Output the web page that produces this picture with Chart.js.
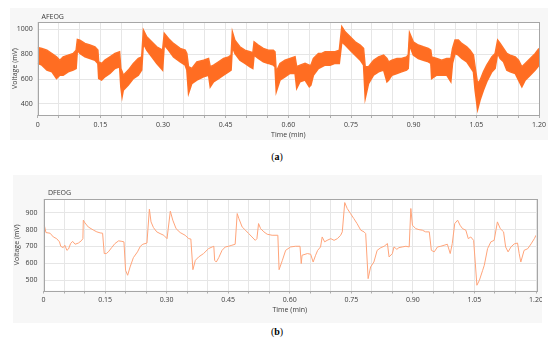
<!DOCTYPE html>
<html>
<head>
<meta charset="utf-8">
<script src="https://cdn.jsdelivr.net/npm/chart.js@4.4.1/dist/chart.umd.min.js"></script>
<style>
  body { margin: 0; background: #fff; width: 550px; height: 348px; position: relative; overflow: hidden; }
  canvas { position: absolute; }
  #chartA { left: 10px; top: 8px; }
  #chartB { left: 13px; top: 175px; }
  .cap { position: absolute; left: 2px; width: 550px; text-align: center; font: 10px 'Liberation Serif', serif; color: #000; }
</style>
</head>
<body>
<canvas id="chartA" width="538" height="132"></canvas>
<canvas id="chartB" width="529" height="148"></canvas>
<div class="cap" style="top:151px">(<b>a</b>)</div>
<div class="cap" style="top:326px">(<b>b</b>)</div>
<script>
/* AFEOG / DFEOG voltage traces */

// labelled ticks on the time axis (grid every 0.05)
const X_LABELS = [0, 0.15, 0.30, 0.45, 0.60, 0.75, 0.90, 1.05, 1.20];

// (a) AFEOG: noisy band, upper / lower envelope (mV)
const TIME_A = [
  0, 0.010, 0.022, 0.034, 0.045, 0.053, 0.061, 0.073, 0.085, 0.092,
  0.095, 0.101, 0.113, 0.125, 0.137, 0.144, 0.146, 0.153, 0.161, 0.173,
  0.185, 0.196, 0.199, 0.202, 0.205, 0.217, 0.229, 0.241, 0.249, 0.253,
  0.261, 0.273, 0.285, 0.299, 0.303, 0.313, 0.325, 0.341, 0.353, 0.357,
  0.361, 0.369, 0.381, 0.397, 0.409, 0.413, 0.421, 0.433, 0.445, 0.457,
  0.463, 0.466, 0.472, 0.484, 0.496, 0.508, 0.515, 0.518, 0.528, 0.540,
  0.552, 0.564, 0.568, 0.571, 0.580, 0.592, 0.604, 0.616, 0.620, 0.628,
  0.640, 0.650, 0.654, 0.660, 0.672, 0.680, 0.688, 0.700, 0.712, 0.722,
  0.728, 0.736, 0.748, 0.760, 0.772, 0.780, 0.784, 0.792, 0.804, 0.816,
  0.828, 0.836, 0.840, 0.848, 0.860, 0.871, 0.883, 0.887, 0.890, 0.899,
  0.911, 0.923, 0.935, 0.941, 0.943, 0.955, 0.967, 0.979, 0.989, 0.993,
  0.999, 1.007, 1.015, 1.027, 1.035, 1.043, 1.047, 1.053, 1.059, 1.067,
  1.075, 1.087, 1.095, 1.101, 1.107, 1.115, 1.123, 1.131, 1.143, 1.151,
  1.159, 1.167, 1.179, 1.191, 1.200
];
const UPPER_A = [
  855, 847, 833, 806, 779, 752, 779, 793, 806, 833,
  919, 914, 887, 874, 860, 833, 739, 726, 752, 779,
  806, 820, 685, 660, 631, 672, 726, 766, 779, 995,
  941, 900, 860, 833, 968, 927, 887, 847, 833, 806,
  699, 685, 739, 752, 766, 699, 712, 739, 766, 779,
  793, 981, 914, 860, 833, 820, 812, 900, 874, 847,
  833, 833, 820, 658, 726, 752, 766, 779, 699, 712,
  726, 712, 712, 766, 806, 806, 820, 820, 820, 833,
  1022, 981, 941, 900, 874, 847, 699, 699, 752, 779,
  793, 766, 739, 752, 766, 766, 779, 793, 973, 900,
  874, 860, 847, 833, 779, 766, 752, 766, 766, 847,
  914, 914, 887, 860, 833, 793, 699, 564, 591, 658,
  712, 779, 806, 914, 887, 847, 806, 793, 779, 752,
  699, 726, 766, 806, 847
];
const LOWER_A = [
  726, 712, 672, 658, 604, 631, 631, 658, 672, 685,
  833, 806, 779, 766, 752, 726, 604, 591, 618, 645,
  685, 699, 537, 456, 510, 551, 604, 631, 672, 887,
  833, 779, 726, 672, 874, 833, 779, 739, 712, 672,
  483, 564, 591, 618, 631, 537, 578, 604, 631, 658,
  672, 860, 806, 752, 726, 699, 685, 793, 766, 739,
  726, 712, 699, 497, 591, 618, 645, 645, 524, 578,
  591, 537, 551, 631, 685, 699, 712, 712, 726, 726,
  900, 874, 833, 793, 752, 712, 443, 564, 631, 658,
  672, 578, 591, 631, 645, 658, 672, 685, 874, 793,
  766, 752, 739, 726, 604, 631, 631, 631, 578, 726,
  806, 793, 766, 739, 699, 658, 510, 354, 430, 510,
  578, 658, 685, 806, 766, 739, 672, 658, 645, 591,
  537, 591, 631, 672, 712
];

// (b) DFEOG: single trace (mV)
const TIME_B = [
  0.002, 0.006, 0.016, 0.024, 0.032, 0.039, 0.042, 0.048, 0.052, 0.057,
  0.061, 0.066, 0.071, 0.077, 0.085, 0.092, 0.096, 0.097, 0.101, 0.109,
  0.122, 0.130, 0.138, 0.144, 0.148, 0.153, 0.158, 0.166, 0.174, 0.183,
  0.191, 0.196, 0.200, 0.205, 0.211, 0.219, 0.229, 0.236, 0.242, 0.252,
  0.258, 0.262, 0.268, 0.276, 0.284, 0.293, 0.301, 0.309, 0.315, 0.323,
  0.333, 0.345, 0.354, 0.359, 0.364, 0.370, 0.378, 0.390, 0.402, 0.411,
  0.415, 0.417, 0.421, 0.427, 0.435, 0.443, 0.451, 0.459, 0.467, 0.472,
  0.476, 0.484, 0.492, 0.500, 0.508, 0.516, 0.520, 0.524, 0.529, 0.537,
  0.545, 0.557, 0.571, 0.574, 0.582, 0.590, 0.602, 0.614, 0.625, 0.628,
  0.630, 0.643, 0.651, 0.657, 0.663, 0.668, 0.675, 0.679, 0.685, 0.691,
  0.700, 0.708, 0.716, 0.724, 0.728, 0.734, 0.740, 0.748, 0.756, 0.764,
  0.773, 0.781, 0.785, 0.791, 0.797, 0.805, 0.813, 0.822, 0.830, 0.838,
  0.842, 0.850, 0.854, 0.861, 0.866, 0.874, 0.883, 0.891, 0.895, 0.899,
  0.907, 0.915, 0.923, 0.931, 0.940, 0.945, 0.952, 0.960, 0.968, 0.976,
  0.984, 0.991, 0.996, 1.002, 1.009, 1.015, 1.021, 1.029, 1.035, 1.041,
  1.048, 1.051, 1.056, 1.062, 1.070, 1.074, 1.082, 1.090, 1.098, 1.106,
  1.113, 1.121, 1.126, 1.132, 1.139, 1.147, 1.155, 1.159, 1.163, 1.171,
  1.180, 1.188, 1.196, 1.200
];
const VOLT_B = [
  825, 782, 778, 756, 746, 727, 701, 693, 707, 677,
  685, 717, 730, 713, 720, 733, 746, 855, 839, 815,
  796, 786, 780, 778, 658, 658, 668, 693, 717, 733,
  730, 727, 559, 530, 579, 634, 668, 701, 713, 720,
  920, 845, 811, 786, 776, 766, 746, 908, 855, 805,
  782, 766, 746, 744, 563, 618, 638, 658, 687, 697,
  701, 618, 608, 634, 677, 697, 701, 707, 713, 894,
  865, 815, 796, 776, 756, 736, 746, 835, 805, 786,
  772, 766, 766, 563, 618, 677, 697, 701, 701, 599,
  648, 658, 654, 608, 648, 677, 697, 756, 727, 736,
  746, 736, 746, 766, 786, 959, 924, 894, 865, 835,
  796, 786, 776, 510, 579, 608, 677, 693, 701, 717,
  638, 658, 697, 683, 693, 697, 701, 697, 924, 825,
  805, 799, 796, 786, 786, 677, 668, 697, 701, 707,
  713, 658, 717, 835, 855, 825, 805, 796, 746, 756,
  736, 638, 471, 500, 559, 589, 687, 727, 736, 845,
  805, 786, 697, 668, 697, 715, 720, 658, 608, 677,
  687, 715, 746, 766
];

const FONT = { family: "'Open Sans', 'Noto Sans', sans-serif", size: 7 };
const TEXT = '#3a3a3a';
const GRID = '#e6e6e6';
const FRAME = '#a6a6a6';

function toPoints(xs, ys) {
  return xs.map((x, i) => ({ x: x, y: ys[i] }));
}

/* grey panel, white plot area, frame and panel title */
const panelPlugin = {
  id: 'panel',
  beforeDraw(chart) {
    const { ctx, chartArea: a, width, height } = chart;
    ctx.save();
    ctx.fillStyle = '#f7f7f7';
    ctx.fillRect(0, 0, width, height);
    ctx.fillStyle = '#ffffff';
    ctx.fillRect(a.left, a.top, a.right - a.left, a.bottom - a.top);
    ctx.restore();
  },
  afterDraw(chart, args, opts) {
    const { ctx, chartArea: a } = chart;
    ctx.save();
    ctx.strokeStyle = FRAME;
    ctx.lineWidth = 1;
    ctx.strokeRect(Math.round(a.left) + 0.5, Math.round(a.top) + 0.5,
      Math.round(a.right - a.left), Math.round(a.bottom - a.top));
    ctx.fillStyle = TEXT;
    ctx.font = "7px 'Open Sans', 'Noto Sans', sans-serif";
    ctx.textBaseline = 'middle';
    ctx.fillText(opts.title, opts.x, opts.y);
    ctx.restore();
  }
};

function xTickLabel(value) {
  const hit = X_LABELS.find(v => Math.abs(v - value) < 1e-6);
  if (hit === undefined) return '';
  return hit === 0 ? '0' : hit.toFixed(2);
}

function makeOptions(cfg) {
  return {
    responsive: false,
    animation: false,
    events: [],
    layout: { padding: { top: cfg.padTop, right: cfg.padRight, bottom: cfg.padBottom, left: 0 } },
    plugins: {
      legend: { display: false },
      tooltip: { enabled: false },
      panel: { title: cfg.title, x: cfg.titleX, y: cfg.titleY }
    },
    scales: {
      x: {
        type: 'linear',
        min: 0,
        max: 1.2,
        afterFit: s => { s.height = cfg.xHeight; s.paddingLeft = 0; s.paddingRight = 0; },
        ticks: {
          stepSize: 0.05, autoSkip: false, maxRotation: 0, minRotation: 0,
          padding: cfg.xTickPad, color: TEXT, font: FONT, callback: xTickLabel
        },
        grid: { color: GRID, tickLength: 3, tickColor: '#b0b0b0' },
        border: { display: false },
        title: { display: true, text: 'Time (min)', color: TEXT, font: FONT, padding: { top: 0, bottom: cfg.xTitlePad } }
      },
      y: {
        min: cfg.yMin,
        max: cfg.yMax,
        afterFit: s => { s.width = cfg.yWidth; },
        ticks: {
          stepSize: cfg.yStep, includeBounds: false, padding: cfg.yTickPad,
          color: TEXT, font: FONT, callback: v => String(v)
        },
        grid: { color: GRID, drawTicks: false },
        border: { display: false },
        title: { display: true, text: 'Voltage (mV)', color: TEXT, font: FONT, padding: { top: cfg.yTitlePad, bottom: 0 } }
      }
    }
  };
}

/* (a) AFEOG band */
new Chart(document.getElementById('chartA'), {
  type: 'line',
  data: {
    datasets: [
      {
        data: toPoints(TIME_A, UPPER_A),
        borderColor: '#ff7228',
        backgroundColor: '#ff6d22',
        borderWidth: 1.5,
        pointRadius: 0,
        tension: 0,
        fill: '+1'
      },
      {
        data: toPoints(TIME_A, LOWER_A),
        borderColor: '#ff7228',
        borderWidth: 1.5,
        pointRadius: 0,
        tension: 0,
        fill: false
      }
    ]
  },
  options: makeOptions({
    padTop: 14, padRight: 9, padBottom: 0,
    xHeight: 25, xTickPad: 3, xTitlePad: 1,
    yMin: 310, yMax: 1060, yStep: 200, yWidth: 27.7, yTickPad: 5, yTitlePad: 1,
    title: 'AFEOG', titleX: 31.5, titleY: 9
  }),
  plugins: [panelPlugin]
});

/* (b) DFEOG trace */
new Chart(document.getElementById('chartB'), {
  type: 'line',
  data: {
    datasets: [{
      data: toPoints(TIME_B, VOLT_B),
      borderColor: '#ffa47a',
      borderWidth: 1,
      pointRadius: 0,
      tension: 0,
      fill: false
    }]
  },
  options: makeOptions({
    padTop: 24, padRight: 6, padBottom: 9,
    xHeight: 23.5, xTickPad: 2, xTitlePad: 0,
    yMin: 440, yMax: 980, yStep: 100, yWidth: 30.5, yTickPad: 6, yTitlePad: 0,
    title: 'DFEOG', titleX: 35, titleY: 18
  }),
  plugins: [panelPlugin]
});
</script>
</body>
</html>
